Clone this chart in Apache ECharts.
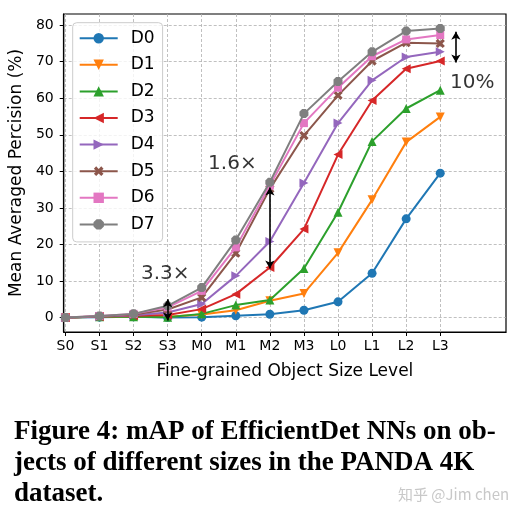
<!DOCTYPE html>
<html><head><meta charset="utf-8">
<script src="https://cdn.jsdelivr.net/npm/echarts@6/dist/echarts.min.js"></script>
<style>html,body{margin:0;padding:0;background:#fff}#c{width:527px;height:519px}</style>
</head><body><div id="c"></div>
<script>
const sizeLevels = ['S0','S1','S2','S3','M0','M1','M2','M3','L0','L1','L2','L3'];
const seriesNames = ['D0','D1','D2','D3','D4','D5','D6','D7'];
const D0 = [0.0, 0.1, 0.2, 0.0, 0.1, 0.5, 0.9, 2.0, 4.3, 12.1, 27.0, 39.5];
const D1 = [0.0, 0.2, 0.3, 0.2, 0.8, 2.0, 4.6, 6.6, 17.7, 32.2, 48.0, 54.9];
const D2 = [0.0, 0.2, 0.2, 0.1, 1.0, 3.4, 4.8, 13.4, 28.8, 48.2, 57.2, 62.2];
const D3 = [0.0, 0.3, 0.5, 0.7, 2.3, 6.4, 13.7, 24.2, 44.6, 59.4, 68.1, 70.2];
const D4 = [0.0, 0.3, 0.6, 1.4, 3.7, 11.4, 20.8, 36.8, 53.2, 64.9, 71.3, 72.7];
const D5 = [0.0, 0.3, 0.8, 2.2, 5.5, 17.6, 35.2, 49.8, 60.8, 70.2, 75.2, 75.0];
const D6 = [0.0, 0.4, 1.0, 2.8, 7.3, 19.2, 36.1, 53.2, 62.9, 71.5, 76.1, 77.3];
const D7 = [0.0, 0.4, 1.0, 3.2, 8.2, 21.2, 37.0, 55.8, 64.6, 72.7, 78.4, 79.1];
const seriesValues = [D0, D1, D2, D3, D4, D5, D6, D7];
const yTicks = [0, 10, 20, 30, 40, 50, 60, 70, 80];

// annotation texts (data coordinates)
const noteTexts = ['3.3×', '1.6×', '10%'];
const noteX = [2.93, 4.9, 11.94];
const noteY = [12.0, 42.2, 64.1];
// double-headed arrows: [x, yFrom, yTo]
const arrowX = [3, 6, 11.46];
const arrowFrom = [-0.8, 13.4, 69.8];
const arrowTo = [5.0, 35.6, 78.2];

const colors = ['#1f77b4','#ff7f0e','#2ca02c','#d62728','#9467bd','#8c564b','#e377c2','#7f7f7f'];
const plusPath = 'path://M-1,-3.2L1,-3.2L1,-1L3.2,-1L3.2,1L1,1L1,3.2L-1,3.2L-1,1L-3.2,1L-3.2,-1L-1,-1Z';
const octPath = 'path://M-0.414,-1L0.414,-1L1,-0.414L1,0.414L0.414,1L-0.414,1L-1,0.414L-1,-0.414Z';
const symbols = ['circle','triangle','triangle','triangle','triangle',plusPath,'rect',octPath];
const rotates = [0, 180, 0, 90, -90, 45, 0, 0];
const sizes = [9, 9, 9, 9, 9, 10, 8, 9];

const font = 'DejaVu Sans';
const chart = echarts.init(document.getElementById('c'), null, {renderer: 'canvas'});

const series = seriesNames.map((n, i) => ({
  name: n, type: 'line',
  data: seriesValues[i].map((v, j) => [j, v]),
  symbol: symbols[i], symbolRotate: rotates[i], symbolSize: sizes[i],
  showAllSymbol: true,
  lineStyle: {color: colors[i], width: 2},
  itemStyle: {color: colors[i]},
  emphasis: {disabled: true},
  animation: false, z: 3 + i * 0.01
}));

series.push({
  name: 'notes', type: 'scatter', symbolSize: 0, animation: false, silent: true, z: 10,
  data: noteTexts.map((t, i) => ({name: t, value: [noteX[i], noteY[i]]})),
  label: {show: true, position: 'inside', formatter: p => p.name, fontFamily: font, fontSize: 20, color: '#000'},
  markLine: {
    silent: true, animation: false,
    symbol: ['arrow', 'arrow'], symbolSize: [7, 8],
    lineStyle: {color: '#000', width: 1.6, type: 'solid'},
    label: {show: false},
    data: arrowX.map((x, i) => [{coord: [x, arrowFrom[i]]}, {coord: [x, arrowTo[i]]}])
  }
});

chart.setOption({
  backgroundColor: '#fff',
  animation: false,
  grid: {left: 63, right: 21, top: 14, bottom: 187, show: true, borderColor: '#000', borderWidth: 1.2, backgroundColor: 'transparent'},
  xAxis: {
    type: 'value', min: -0.05, max: 12.93,
    name: 'Fine-grained Object Size Level', nameLocation: 'middle', nameGap: 31,
    nameTextStyle: {fontFamily: font, fontSize: 17, color: '#000'},
    axisLine: {show: true, onZero: false, lineStyle: {color: '#000', width: 1.2}},
    axisTick: {show: true, inside: false, length: 4, lineStyle: {color: '#000'}, customValues: sizeLevels.map((s, i) => i)},
    axisLabel: {customValues: sizeLevels.map((s, i) => i), formatter: v => sizeLevels[Math.round(v)] || '', fontFamily: font, fontSize: 14, color: '#000', margin: 7},
    splitLine: {show: true, lineStyle: {color: '#b0b0b0', type: [3, 2], width: 0.8}}
  },
  yAxis: {
    type: 'value', min: -3.96, max: 83.06,
    name: 'Mean Averaged Percision (%)', nameLocation: 'middle', nameGap: 34,
    nameTextStyle: {fontFamily: font, fontSize: 17, color: '#000'},
    axisLine: {show: true, onZero: false, lineStyle: {color: '#000', width: 1.2}},
    axisTick: {show: true, inside: false, length: 4, lineStyle: {color: '#000'}, customValues: yTicks},
    axisLabel: {customValues: yTicks, fontFamily: font, fontSize: 14, color: '#000', margin: 10},
    splitLine: {show: true, lineStyle: {color: '#b0b0b0', type: [3, 2], width: 0.8}}
  },
  legend: {
    data: seriesNames, orient: 'vertical', left: 72.7, top: 22.7,
    itemWidth: 38, itemHeight: 13, itemGap: 6.6,
    padding: [5.5, 8, 7.5, 6],
    backgroundColor: 'rgba(255,255,255,0.8)', borderColor: '#cccccc', borderWidth: 1, borderRadius: 4,
    textStyle: {fontFamily: font, fontSize: 17, color: '#000', lineHeight: 20, padding: [0, 0, 0, 8]},
    selectedMode: false
  },
  title: [{
    text: 'Figure 4: mAP of EfficientDet NNs on ob-\njects of different sizes in the PANDA 4K\ndataset.',
    left: 9, top: 412,
    textStyle: {fontFamily: 'Liberation Serif', fontWeight: 'bold', fontSize: 27, lineHeight: 31, color: '#000'}
  }, {
    text: '知乎 @Jim chen', left: 393, top: 482,
    textStyle: {fontFamily: 'Noto Sans CJK SC', fontWeight: 'normal', fontSize: 15, color: '#c8c8c8'}
  }],
  series: series
});
</script></body></html>
